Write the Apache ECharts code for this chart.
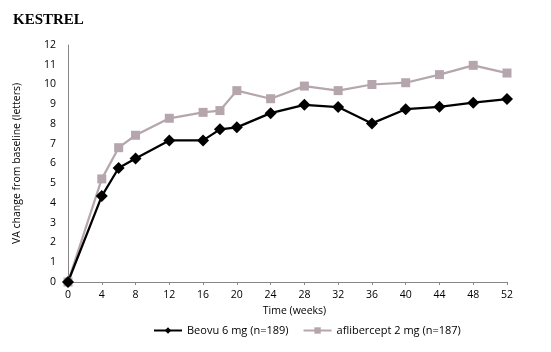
<!DOCTYPE html>
<html>
<head>
<meta charset="utf-8">
<script src="https://cdn.jsdelivr.net/npm/echarts@6/dist/echarts.min.js"></script>
<style>
html, body { margin: 0; padding: 0; background: #fff; }
#main { width: 551px; height: 352px; }
</style>
</head>
<body>
<div id="main"></div>
<script>
// weeks of each visit
var weeks = [0, 4, 6, 8, 12, 16, 18, 20, 24, 28, 32, 36, 40, 44, 48, 52];
// mean change in letters
var beovu = [0, 4.35, 5.77, 6.25, 7.17, 7.17, 7.73, 7.83, 8.55, 8.97, 8.86, 8.03, 8.75, 8.87, 9.08, 9.26];
var aflibercept = [0, 5.22, 6.8, 7.43, 8.29, 8.59, 8.68, 9.69, 9.28, 9.92, 9.69, 10.0, 10.09, 10.5, 10.97, 10.58];

function pairs(vals){
	return weeks.map(function(w, i){ return [w, vals[i]]; });
}

var font = "'Open Sans', 'Liberation Sans', sans-serif";
var chart = echarts.init(document.getElementById('main'));

var option = {
	animation : false,
	title : {
		text : "KESTREL",
		left : 8,
		top : 8,
		textStyle : {
			fontFamily : "'Liberation Serif', serif",
			fontWeight : "bold",
			fontSize : 15,
			color : "#000"
		}
	},
	grid : {
		left : 68,
		right : 44,
		top : 45,
		bottom : 70
	},
	xAxis : {
		type : "value",
		min : 0,
		max : 52,
		interval : 4,
		name : "Time (weeks)",
		nameLocation : "middle",
		nameGap : 24,
		nameTextStyle : { fontFamily : font, fontSize : 10.5, color : "#000", padding : [0, 0, 0, 14] },
		splitLine : { show : false },
		axisLine : { lineStyle : { color : "#868686" } },
		axisTick : { show : true, length : 3, lineStyle : { color : "#868686" } },
		axisLabel : { fontFamily : font, fontSize : 10.5, color : "#000", margin : 8 }
	},
	yAxis : {
		type : "value",
		min : 0,
		max : 12,
		interval : 1,
		name : "VA change from baseline (letters)",
		nameLocation : "middle",
		nameGap : 45,
		nameTextStyle : { fontFamily : font, fontSize : 10.5, color : "#000" },
		splitLine : { show : false },
		axisLine : { show : true, lineStyle : { color : "#868686" } },
		axisTick : { show : false },
		axisLabel : { fontFamily : font, fontSize : 10.5, color : "#000", margin : 12 }
	},
	legend : {
		bottom : 11,
		left : 148,
		itemWidth : 28,
		itemHeight : 8,
		itemGap : 14,
		textStyle : { fontFamily : font, fontSize : 11, color : "#000" },
		data : ["Beovu 6 mg (n=189)", "aflibercept 2 mg (n=187)"]
	},
	series : [
		{
			name : "aflibercept 2 mg (n=187)",
			type : "line",
			data : pairs(aflibercept),
			symbol : "rect",
			symbolSize : 9,
			itemStyle : { color : "#b5a6ad" },
			lineStyle : { color : "#b5a6ad", width : 2.25 }
		},
		{
			name : "Beovu 6 mg (n=189)",
			type : "line",
			data : pairs(beovu),
			symbol : "diamond",
			symbolSize : 12,
			itemStyle : { color : "#000" },
			lineStyle : { color : "#000", width : 2.25 }
		}
	]
};
chart.setOption(option);
</script>
</body>
</html>
